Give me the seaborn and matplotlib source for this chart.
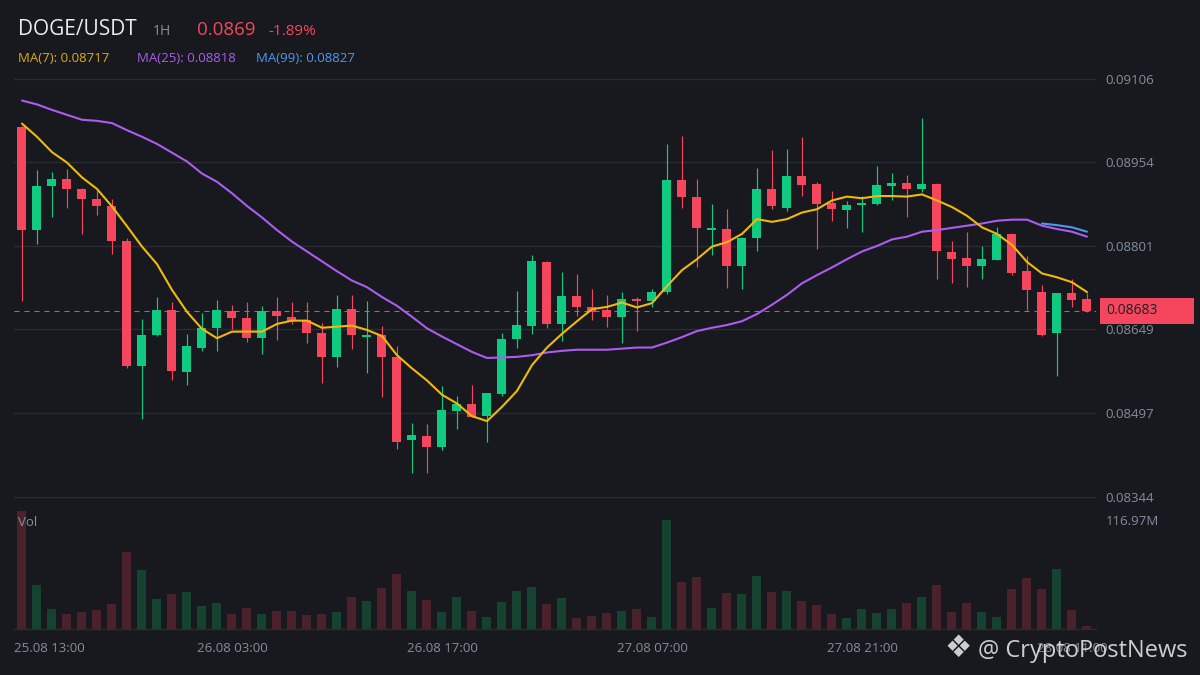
import numpy as np
import pandas as pd
import matplotlib
matplotlib.use("Agg")
import matplotlib.pyplot as plt
import matplotlib.transforms as mtransforms
from matplotlib.patches import Rectangle
import seaborn as sns

# ---------------- data ----------------
opens = [0.09017, 0.08831, 0.08911, 0.08923, 0.08905, 0.08887, 0.08874, 0.08811, 0.08583, 0.08638,
         0.08684, 0.08572, 0.08616, 0.08652, 0.08683, 0.08669, 0.08634, 0.08683, 0.08672, 0.08666,
         0.08643, 0.08598, 0.08686, 0.08636, 0.08638, 0.08598, 0.08448, 0.08455, 0.08434, 0.08501,
         0.08513, 0.08492, 0.08532, 0.08632, 0.08656, 0.08772, 0.08658, 0.08710, 0.08689, 0.08684,
         0.08672, 0.08704, 0.08701, 0.08718, 0.08921, 0.08890, 0.08831, 0.08832, 0.08765, 0.08816,
         0.08905, 0.08871, 0.08929, 0.08914, 0.08879, 0.08867, 0.08876, 0.08878, 0.08911, 0.08916,
         0.08904, 0.08914, 0.08790, 0.08779, 0.08765, 0.08776, 0.08823, 0.08755, 0.08717, 0.08643,
         0.08715, 0.08704]
highs = [0.09020, 0.08940, 0.08936, 0.08941, 0.08906, 0.08903, 0.08887, 0.08816, 0.08668, 0.08708,
         0.08699, 0.08641, 0.08679, 0.08703, 0.08694, 0.08699, 0.08692, 0.08708, 0.08699, 0.08699,
         0.08661, 0.08712, 0.08712, 0.08701, 0.08655, 0.08619, 0.08479, 0.08477, 0.08546, 0.08528,
         0.08548, 0.08534, 0.08643, 0.08719, 0.08785, 0.08774, 0.08754, 0.08750, 0.08723, 0.08712,
         0.08717, 0.08708, 0.08723, 0.08987, 0.09001, 0.08923, 0.08878, 0.08868, 0.08817, 0.08943,
         0.08976, 0.08978, 0.09000, 0.08918, 0.08901, 0.08883, 0.08892, 0.08947, 0.08934, 0.08930,
         0.09034, 0.08915, 0.08810, 0.08827, 0.08801, 0.08836, 0.08825, 0.08783, 0.08730, 0.08716,
         0.08741, 0.08715]
lows = [0.08701, 0.08805, 0.08854, 0.08871, 0.08823, 0.08858, 0.08787, 0.08579, 0.08485, 0.08637,
        0.08557, 0.08547, 0.08610, 0.08610, 0.08649, 0.08627, 0.08605, 0.08630, 0.08658, 0.08625,
        0.08552, 0.08581, 0.08614, 0.08570, 0.08525, 0.08432, 0.08388, 0.08388, 0.08430, 0.08468,
        0.08489, 0.08444, 0.08528, 0.08616, 0.08641, 0.08652, 0.08628, 0.08674, 0.08667, 0.08654,
        0.08625, 0.08647, 0.08689, 0.08714, 0.08871, 0.08763, 0.08785, 0.08725, 0.08723, 0.08791,
        0.08868, 0.08864, 0.08893, 0.08796, 0.08847, 0.08833, 0.08827, 0.08876, 0.08884, 0.08853,
        0.08900, 0.08741, 0.08734, 0.08727, 0.08741, 0.08775, 0.08749, 0.08685, 0.08637, 0.08565,
        0.08690, 0.08680]
closes = [0.08831, 0.08910, 0.08923, 0.08905, 0.08887, 0.08874, 0.08811, 0.08583, 0.08639, 0.08684,
          0.08574, 0.08619, 0.08652, 0.08684, 0.08669, 0.08634, 0.08683, 0.08674, 0.08665, 0.08643,
          0.08598, 0.08686, 0.08638, 0.08639, 0.08598, 0.08444, 0.08457, 0.08435, 0.08502, 0.08513,
          0.08490, 0.08533, 0.08632, 0.08657, 0.08774, 0.08658, 0.08710, 0.08690, 0.08681, 0.08672,
          0.08704, 0.08701, 0.08717, 0.08921, 0.08891, 0.08833, 0.08834, 0.08765, 0.08816, 0.08905,
          0.08873, 0.08929, 0.08913, 0.08878, 0.08869, 0.08876, 0.08879, 0.08912, 0.08916, 0.08904,
          0.08914, 0.08791, 0.08778, 0.08765, 0.08777, 0.08823, 0.08752, 0.08720, 0.08639, 0.08715,
          0.08703, 0.08683]
volume_m = [126.6, 47.4, 21.8, 16.8, 18.5, 20.7, 27.1, 82.8, 63.5, 32.5,
            37.8, 40.0, 25.0, 28.2, 16.8, 22.8, 16.4, 19.6, 19.6, 15.3,
            16.8, 18.5, 34.6, 30.3, 44.2, 59.2, 41.0, 31.4, 18.5, 34.6,
            19.6, 13.2, 29.2, 41.0, 45.3, 27.1, 33.5, 12.1, 14.3, 17.5,
            19.6, 21.8, 13.2, 116.97, 50.7, 56.0, 22.8, 38.9, 37.8, 57.1,
            40.0, 41.0, 30.3, 26.0, 16.4, 12.1, 21.8, 17.5, 21.8, 28.2,
            34.6, 47.4, 18.5, 28.2, 18.5, 13.2, 43.2, 54.9, 43.2, 64.6,
            20.7, 3.6]
ma7 = [0.09024, 0.09000, 0.08972, 0.08953, 0.08926, 0.08905, 0.08873, 0.08837, 0.08800, 0.08768,
       0.08721, 0.08681, 0.08650, 0.08633, 0.08645, 0.08645, 0.08645, 0.08659, 0.08665, 0.08665,
       0.08652, 0.08654, 0.08656, 0.08648, 0.08637, 0.08602, 0.08578, 0.08556, 0.08530, 0.08514,
       0.08491, 0.08482, 0.08508, 0.08537, 0.08584, 0.08616, 0.08641, 0.08664, 0.08686, 0.08690,
       0.08698, 0.08689, 0.08697, 0.08728, 0.08757, 0.08777, 0.08800, 0.08808, 0.08823, 0.08850,
       0.08845, 0.08850, 0.08862, 0.08868, 0.08884, 0.08891, 0.08888, 0.08892, 0.08892, 0.08891,
       0.08895, 0.08884, 0.08872, 0.08856, 0.08835, 0.08823, 0.08803, 0.08772, 0.08751, 0.08744,
       0.08735, 0.08717]
ma25 = [0.09066, 0.09059, 0.09049, 0.09040, 0.09031, 0.09029, 0.09025, 0.09012, 0.09000, 0.08987,
        0.08971, 0.08955, 0.08933, 0.08918, 0.08897, 0.08874, 0.08853, 0.08830, 0.08809, 0.08791,
        0.08773, 0.08755, 0.08738, 0.08726, 0.08708, 0.08692, 0.08672, 0.08651, 0.08636, 0.08622,
        0.08608, 0.08597, 0.08598, 0.08599, 0.08602, 0.08607, 0.08610, 0.08612, 0.08612, 0.08612,
        0.08614, 0.08616, 0.08616, 0.08625, 0.08635, 0.08646, 0.08652, 0.08657, 0.08664, 0.08677,
        0.08694, 0.08712, 0.08733, 0.08748, 0.08762, 0.08777, 0.08791, 0.08801, 0.08813, 0.08818,
        0.08827, 0.08830, 0.08834, 0.08838, 0.08842, 0.08847, 0.08849, 0.08849, 0.08838, 0.08832,
        0.08827, 0.08818]
ma99_tail = [0.08842, 0.08839, 0.08835, 0.08827]   # only the last 4 candles have MA(99)

tick_pos = [0, 14, 28, 42, 56, 70]
tick_labels = ["25.08 13:00", "26.08 03:00", "26.08 17:00", "27.08 07:00", "27.08 21:00", "28.08 11:00"]
price_ticks = [0.08344, 0.08497, 0.08649, 0.08801, 0.08954, 0.09106]
price_lim = (0.083291, 0.091399)
vol_lim = (0, 133.0)
vol_tick = 116.97
last_price = 0.08683

# ---------------- style ----------------
BG = "#17191e"
GRID = "#2a2d34"
GRAY = "#848e9c"
UP = "#0ecb81"
DN = "#f6465d"
VOL_UP = "#15432f"
VOL_DN = "#4b222b"
C_MA7 = "#f0b90b"
C_MA25 = "#ad5cf0"
C_MA99 = "#4f98ee"

sns.set_theme(style="dark", rc={"axes.facecolor": BG, "figure.facecolor": BG,
                                "axes.edgecolor": GRID, "grid.color": GRID})
plt.rcParams["font.family"] = ["Open Sans", "DejaVu Sans"]

W, H = 1200, 675
fig = plt.figure(figsize=(W / 100, H / 100), dpi=100)


def fx(x):
    return x / W


def fy(y):
    return 1 - y / H


ax = fig.add_axes([fx(14), fy(505), (1096 - 14) / W, (505 - 60) / H])
axv = fig.add_axes([fx(14), fy(629.3), (1096 - 14) / W, (629.3 - 505) / H])

idx = np.arange(len(closes))
o = np.array(opens)
c = np.array(closes)
hi = np.array(highs)
lo = np.array(lows)
up = c >= o
cols = np.where(up, UP, DN)

# candles
ax.vlines(idx, lo, hi, colors=cols, lw=0.85, zorder=2)
body_b = np.minimum(o, c)
body_h = np.maximum(np.abs(c - o), 0.00003)
ax.bar(idx, body_h, bottom=body_b, width=0.6, color=cols, linewidth=0, zorder=3)

# moving averages
sns.lineplot(x=idx, y=ma25, color=C_MA25, lw=1.5, ax=ax, zorder=4)
sns.lineplot(x=idx[-len(ma99_tail):], y=ma99_tail, color=C_MA99, lw=1.5, ax=ax, zorder=4)
sns.lineplot(x=idx, y=ma7, color=C_MA7, lw=1.5, ax=ax, zorder=5)

# last price dashed line
ax.axhline(last_price, color=DN, lw=0.75, ls=(0, (4.8, 4.8)), zorder=1)

ax.set_xlim(-0.533, 71.6)
ax.set_ylim(*price_lim)
ax.set_yticks(price_ticks)
ax.set_yticklabels([f"{t:.5f}" for t in price_ticks])
ax.yaxis.tick_right()
ax.tick_params(axis="y", length=0, pad=7, labelcolor=GRAY, labelsize=9.5)
ax.tick_params(axis="x", bottom=False, labelbottom=False)
ax.grid(axis="y", color=GRID, lw=1)
ax.grid(axis="x", visible=False)
ax.set_xlabel("")
ax.set_ylabel("")
for s in ax.spines.values():
    s.set_visible(False)

# last price tag
px_per_unit = (price_lim[1] - price_lim[0]) / (505 - 60)
tag_h = 25.5 * px_per_unit
blend = mtransforms.blended_transform_factory(fig.transFigure, ax.transData)
fig.patches.append(Rectangle((fx(1100), last_price - tag_h / 2), 94 / W, tag_h,
                             transform=blend, facecolor=DN, edgecolor="none", zorder=6))
fig.text(fx(1106), last_price, f"{last_price:.5f}", transform=blend, va="center", ha="left",
         color="#1c1e24", fontsize=10, zorder=7)

# volume
vol_df = pd.DataFrame({"t": idx, "vol": volume_m, "dir": np.where(up, "up", "down")})
sns.barplot(data=vol_df, x="t", y="vol", hue="dir", palette={"up": VOL_UP, "down": VOL_DN},
            native_scale=True, width=0.6, dodge=False, errorbar=None, legend=False,
            saturation=1, linewidth=0, ax=axv)
axv.set_xlim(-0.533, 71.6)
axv.set_ylim(*vol_lim)
axv.set_yticks([vol_tick])
axv.set_yticklabels([f"{vol_tick:.2f}M"])
axv.yaxis.tick_right()
axv.tick_params(axis="y", length=0, pad=7, labelcolor=GRAY, labelsize=9.5)
axv.set_xticks(tick_pos)
axv.set_xticklabels(tick_labels)
axv.tick_params(axis="x", length=0, pad=9, labelcolor=GRAY, labelsize=9.5)
axv.grid(False)
axv.set_xlabel("")
axv.set_ylabel("")
for name, s in axv.spines.items():
    s.set_visible(name == "bottom")
axv.spines["bottom"].set_color(GRID)
axv.spines["bottom"].set_linewidth(1)
first = axv.get_xticklabels()[0]
first.set_ha("left")
first.set_transform(first.get_transform() + mtransforms.ScaledTranslation(-0.075, 0, fig.dpi_scale_trans))
axv.text(4 / 1082, 1 - 17 / 124.3, "Vol", transform=axv.transAxes, color=GRAY, fontsize=9.5,
         va="center", ha="left")

# header
fig.text(fx(18), fy(35), "DOGE/USDT", color="#eaecef", fontsize=15, va="baseline")
fig.text(fx(153), fy(35), "1H", color=GRAY, fontsize=10, va="baseline")
fig.text(fx(197), fy(35), "0.0869", color=DN, fontsize=13.5, va="baseline")
fig.text(fx(268), fy(35), "-1.89%", color=DN, fontsize=11, va="baseline")
fig.text(fx(18), fy(62), f"MA(7): {ma7[-1]:.5f}", color="#e0aa10", fontsize=9.5, va="baseline")
fig.text(fx(137), fy(62), f"MA(25): {ma25[-1]:.5f}", color=C_MA25, fontsize=9.5, va="baseline")
fig.text(fx(256), fy(62), f"MA(99): {ma99_tail[-1]:.5f}", color=C_MA99, fontsize=9.5, va="baseline")

# watermark
fig.text(fx(958), fy(648), "\u2756", color="#dedede", fontsize=22, ha="center", va="center",
         family=["DejaVu Sans"], alpha=0.92, zorder=10)
fig.text(fx(978), fy(657), "@ CryptoPostNews", color="#dedede", fontsize=17, va="baseline",
         alpha=0.92, zorder=10)

fig.savefig("out.png", dpi=100, facecolor=BG)
